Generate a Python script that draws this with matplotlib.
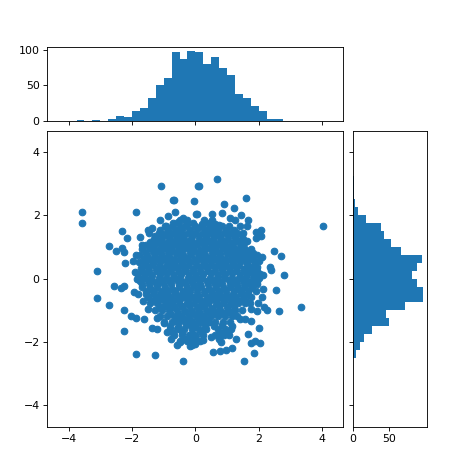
import numpy as np
import matplotlib
matplotlib.use("Agg")
import matplotlib.pyplot as plt

outer_x = [-1.10,-3.57,-3.59,-1.87,-0.67,-0.72,-0.05,0.08,-0.65,-1.12,-0.86,-2.30,-2.17,-1.75,-2.74,-2.51,-2.33,-2.25,-1.67,-1.56,
 -3.12,-2.22,-1.98,-1.88,-1.54,-1.91,-1.49,-1.38,-1.46,-0.38,0.02,-0.72,-0.93,
 0.68,0.10,1.59,0.89,1.21,0.85,1.44,1.67,0.04,0.53,1.09,1.25,1.62,1.40,0.75,2.07,1.91,1.49,2.06,1.91,1.62,4.03,2.49,2.69,2.09,2.35,2.38,2.81,2.14,1.82,1.67,
 -2.57,-2.35,-2.25,-1.94,-1.80,-3.12,-2.74,-2.25,-2.03,-1.88,-1.62,-2.26,-1.38,-1.21,-1.87,-1.28,-0.40,-0.89,-0.78,-0.57,-0.17,-0.02,-1.22,-1.49,-1.65,-1.85,
 2.54,2.14,2.09,3.32,2.63,2.25,2.16,1.93,1.75,1.77,2.00,1.67,1.27,1.89,2.03,1.76,1.85,1.54,1.17,0.96,0.77,0.56,1.07,0.75,0.49,-0.12,0.02,1.40,1.56,1.72,1.98]
outer_y = [2.91,2.11,1.74,2.09,2.47,2.47,2.44,2.91,2.09,1.84,1.97,1.51,1.29,1.32,1.02,0.87,0.96,0.85,1.06,1.06,
 0.25,0.49,0.55,0.76,0.65,0.21,1.55,1.60,1.44,1.91,2.05,1.76,1.65,
 3.13,2.91,2.53,2.37,2.22,2.07,2.00,1.86,2.05,2.04,1.91,1.86,1.67,1.67,1.70,1.55,1.46,1.44,1.33,1.28,1.18,1.67,0.87,0.70,0.68,0.37,0.28,0.13,0.13,0.81,0.86,
 -0.22,-0.31,-0.22,-0.42,-0.47,-0.60,-0.82,-0.98,-1.19,-1.23,-1.28,-1.64,-1.55,-1.58,-2.37,-2.40,-2.59,-1.69,-1.89,-2.08,-2.14,-2.05,-1.24,-0.96,-0.72,-0.01,
 -0.35,-0.33,-0.58,-0.90,-1.02,-0.98,-0.89,-1.03,-0.96,-1.35,-1.55,-1.74,-1.91,-1.96,-2.03,-2.03,-2.34,-2.59,-2.20,-2.24,-2.27,-2.32,-1.77,-1.92,-1.85,-2.08,-1.97,-1.29,-1.29,-0.77,-0.77]

core_rows_y = [1.85,1.65,1.45,1.25,1.05,0.85,0.63,0.43,0.23,0.03,-0.17,-0.38,-0.58,-0.78,-0.98,-1.18,-1.38,-1.58,-1.78,-1.98]
core_rows_x = [
 [-0.5,-0.27,0.28,0.52],
 [-0.95,-0.7,-0.48,-0.25,-0.02,0.2,0.42,0.62,0.85,1.05],
 [-1.15,-0.92,-0.7,-0.47,-0.24,0.0,0.23,0.46,0.68,0.91,1.13,1.3],
 [-1.3,-1.07,-0.84,-0.62,-0.38,-0.15,0.1,0.33,0.56,0.8,1.02,1.25,1.5],
 [-1.3,-1.1,-0.87,-0.63,-0.4,-0.17,0.06,0.28,0.52,0.75,0.98,1.2,1.45],
 [-1.56,-1.33,-1.1,-0.87,-0.64,-0.41,-0.18,0.05,0.28,0.51,0.74,0.97,1.2,1.42,1.62],
 [-1.63,-1.4,-1.17,-0.94,-0.71,-0.48,-0.25,-0.02,0.21,0.44,0.67,0.9,1.13,1.36,1.58,1.8],
 [-1.6,-1.37,-1.14,-0.91,-0.68,-0.45,-0.22,0.01,0.24,0.47,0.7,0.93,1.16,1.39,1.62,1.85],
 [-1.68,-1.45,-1.22,-0.99,-0.76,-0.53,-0.3,-0.07,0.16,0.39,0.62,0.85,1.08,1.31,1.54,1.75,1.95],
 [-1.62,-1.39,-1.16,-0.93,-0.7,-0.47,-0.24,-0.01,0.22,0.45,0.68,0.91,1.14,1.37,1.6,1.83,2.02],
 [-1.68,-1.45,-1.22,-0.99,-0.76,-0.53,-0.3,-0.07,0.16,0.39,0.62,0.85,1.08,1.31,1.54,1.77,1.95],
 [-1.55,-1.32,-1.09,-0.86,-0.63,-0.4,-0.17,0.06,0.29,0.52,0.75,0.98,1.21,1.44,1.67,1.9],
 [-1.48,-1.25,-1.02,-0.79,-0.56,-0.33,-0.1,0.13,0.36,0.59,0.82,1.05,1.28,1.51,1.74],
 [-1.42,-1.2,-0.97,-0.74,-0.51,-0.28,-0.05,0.18,0.41,0.64,0.87,1.1,1.33,1.56],
 [-1.28,-1.05,-0.82,-0.59,-0.36,-0.13,0.1,0.33,0.56,0.79,1.02,1.25,1.48],
 [-1.12,-0.9,-0.67,-0.44,-0.21,0.02,0.25,0.48,0.71,0.94,1.17,1.32],
 [-0.98,-0.75,-0.52,-0.29,-0.06,0.17,0.4,0.63,0.86,1.09],
 [-0.8,-0.58,-0.35,-0.12,0.11,0.34,0.72,0.95,1.12],
 [-0.66,-0.43,-0.2,0.03,0.25,0.62,0.9],
 [-0.47,-0.25,0.15],
]

fill_x = [-0.55,-0.31,-0.08,0.21,0.42,0.62,
 -1.12,-0.86,-0.62,-0.41,-0.16,0.09,0.31,0.52,0.71,0.96,1.21,
 -1.28,-1.03,-0.81,-0.58,-0.36,-0.12,0.12,0.35,0.58,0.79,1.03,1.24,1.46,
 -1.42,-1.18,-0.95,-0.73,-0.49,-0.27,-0.02,0.22,0.44,0.68,0.91,1.14,1.38,1.58,
 -1.68,-1.44,-1.22,-0.98,-0.76,-0.52,-0.29,-0.06,0.17,0.39,0.63,0.86,1.09,1.31,1.53,1.74,
 -1.74,-1.52,-1.29,-1.05,-0.83,-0.59,-0.37,-0.13,0.11,0.33,0.56,0.79,1.02,1.26,1.47,1.69,1.93,
 -1.78,-1.55,-1.33,-1.09,-0.87,-0.64,-0.41,-0.18,0.06,0.28,0.51,0.74,0.98,1.19,1.43,1.64,1.87,2.02,
 -1.71,-1.48,-1.25,-1.02,-0.79,-0.57,-0.33,-0.09,0.14,0.37,0.61,0.83,1.07,1.29,1.52,1.75,1.95,
 -1.82,-1.59,-1.36,-1.13,-0.91,-0.68,-0.44,-0.21,0.03,0.25,0.49,0.72,0.94,1.17,1.41,1.62,1.84,2.05,
 -1.75,-1.51,-1.27,-1.04,-0.81,-0.58,-0.35,-0.11,0.13,0.36,0.59,0.82,1.05,1.28,1.51,1.72,1.96,
 -1.69,-1.43,-1.21,-0.97,-0.74,-0.51,-0.28,-0.04,0.19,0.42,0.66,0.89,1.12,1.34,1.57,1.79,
 -1.57,-1.34,-1.11,-0.88,-0.65,-0.42,-0.19,0.05,0.27,0.51,0.74,0.97,1.2,1.43,1.66,
 -1.38,-1.16,-0.93,-0.71,-0.47,-0.24,0.01,0.23,0.46,0.69,0.91,1.15,1.37,1.58,
 -1.13,-0.89,-0.66,-0.43,-0.2,0.04,0.28,0.52,0.75,0.99,1.22,
 -0.79,-0.55,-0.32,-0.08,0.16,0.39,0.63,0.87,1.08,
 -0.61,-0.37,-0.14,0.11,0.34,
 -0.8,-0.56,-0.3,0.0,0.3,0.58,0.85,1.15,-0.7,-0.42,-0.12,0.2,0.78,1.02,-0.35,-0.02,0.25,0.82,-1.0,-0.6,-0.2,0.1,0.42,-0.48,-0.15]
fill_y = [1.78,1.74,1.77,1.72,1.76,1.71,
 1.55,1.58,1.52,1.56,1.53,1.59,1.54,1.57,1.51,1.55,1.52,
 1.36,1.33,1.38,1.32,1.37,1.34,1.39,1.33,1.36,1.31,1.38,1.35,1.32,
 1.14,1.17,1.12,1.16,1.13,1.18,1.11,1.15,1.19,1.13,1.16,1.12,1.17,1.14,
 0.93,0.96,0.91,0.97,0.94,0.92,0.98,0.95,0.91,0.97,0.93,0.96,0.92,0.95,0.98,0.94,
 0.74,0.71,0.76,0.72,0.75,0.78,0.71,0.74,0.77,0.72,0.76,0.73,0.78,0.71,0.75,0.72,0.76,
 0.52,0.55,0.51,0.57,0.53,0.56,0.52,0.54,0.58,0.51,0.55,0.53,0.57,0.52,0.56,0.53,0.51,0.55,
 0.33,0.36,0.31,0.34,0.37,0.32,0.35,0.31,0.36,0.33,0.38,0.32,0.35,0.37,0.31,0.34,0.36,
 0.12,0.15,0.11,0.14,0.17,0.12,0.16,0.13,0.11,0.15,0.18,0.12,0.14,0.17,0.11,0.15,0.12,0.16,
 -0.08,-0.05,-0.11,-0.06,-0.09,-0.04,-0.1,-0.07,-0.03,-0.09,-0.06,-0.11,-0.05,-0.08,-0.04,-0.1,-0.07,
 -0.27,-0.31,-0.25,-0.29,-0.33,-0.26,-0.3,-0.24,-0.28,-0.32,-0.26,-0.3,-0.25,-0.29,-0.27,-0.31,
 -0.49,-0.46,-0.51,-0.47,-0.44,-0.5,-0.48,-0.52,-0.45,-0.49,-0.46,-0.51,-0.47,-0.44,-0.5,
 -0.69,-0.66,-0.71,-0.67,-0.64,-0.7,-0.65,-0.72,-0.68,-0.63,-0.69,-0.66,-0.71,-0.67,
 -0.88,-0.85,-0.91,-0.87,-0.84,-0.9,-0.86,-0.92,-0.85,-0.89,-0.87,
 -1.08,-1.11,-1.05,-1.09,-1.12,-1.06,-1.1,-1.07,-1.04,
 -1.31,-1.27,-1.33,-1.29,-1.26,
 -1.5,-1.52,-1.47,-1.53,-1.49,-1.51,-1.46,-1.5,-1.72,-1.69,-1.74,-1.7,-1.73,-1.68,-1.9,-1.86,-1.93,-2.0,-1.4,-1.35,-1.42,-1.38,-1.36,-2.0,-1.98]

scatter_x = outer_x + fill_x + [x for row in core_rows_x for x in row]
scatter_y = outer_y + fill_y + [y for y, row in zip(core_rows_y, core_rows_x) for _ in row]

top_edges = [-3.75,-3.5,-3.25,-3.0,-2.75,-2.5,-2.25,-2.0,-1.75,-1.5,-1.25,-1.0,-0.75,-0.5,-0.25,0.0,0.25,0.5,0.75,1.0,1.25,1.5,1.75,2.0,2.25,2.5,2.75,3.0,3.25,3.5,3.75,4.0,4.25]
top_counts = [2,0,2,1,3,7,6,14,19,32,51,61,96,87,98,96,80,89,75,65,38,33,21,15,3,3,1,0,1,0,0,1]

right_edges = [-2.75,-2.5,-2.25,-2.0,-1.75,-1.5,-1.25,-1.0,-0.75,-0.5,-0.25,0.0,0.25,0.5,0.75,1.0,1.25,1.5,1.75,2.0,2.25,2.5,2.75,3.0,3.25]
right_counts = [1,5,10,15,26,49,46,71,96,96,88,81,88,94,66,52,43,38,18,7,3,2,2,2]

fig = plt.figure(figsize=(6, 6), dpi=79)
gs = fig.add_gridspec(2, 2, width_ratios=(4, 1), height_ratios=(1, 4),
                      left=0.1, right=0.9, bottom=0.1, top=0.9, wspace=0.05, hspace=0.05)
ax = fig.add_subplot(gs[1, 0])
ax_histx = fig.add_subplot(gs[0, 0], sharex=ax)
ax_histy = fig.add_subplot(gs[1, 1], sharey=ax)
ax_histx.tick_params(axis="x", labelbottom=False)
ax_histy.tick_params(axis="y", labelleft=False)

ax.scatter(scatter_x, scatter_y)
ax_histx.hist(top_edges[:-1], bins=top_edges, weights=top_counts)
ax_histy.hist(right_edges[:-1], bins=right_edges, weights=right_counts, orientation="horizontal")

ax.set_xlim(-4.67, 4.67)
ax.set_ylim(-4.67, 4.67)
ax.set_xticks([-4, -2, 0, 2, 4])
ax.set_yticks([-4, -2, 0, 2, 4])
ax_histx.set_ylim(0, 103)
ax_histy.set_xlim(0, 100.8)
ax_histx.set_yticks([0, 50, 100])
ax_histy.set_xticks([0, 50])

fig.savefig("out.png", dpi=79)
